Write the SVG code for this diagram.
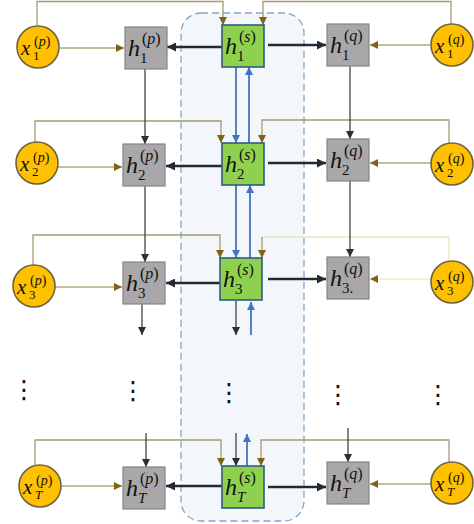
<svg xmlns="http://www.w3.org/2000/svg" width="474" height="524" viewBox="0 0 474 524">
<style>
.bg{fill:#f3f7fc;stroke:#86a5c4;stroke-width:1.3;stroke-dasharray:7 4}
.c{fill:#ffc000;stroke:#6e6240;stroke-width:1.6}
.g{fill:#a9a7a7;stroke:#858585;stroke-width:1.2}
.s{fill:#8fd14f;stroke:#2f5b80;stroke-width:1.6}
.rt{fill:none;stroke:#a39b74;stroke-width:1.3}
.rtf{fill:none;stroke:#ebe6c2;stroke-width:1.3}
.ol{fill:none;stroke:#8c7d44;stroke-width:1.2}
.olf{fill:none;stroke:#ece6b8;stroke-width:1.2}
.th{fill:none;stroke:#222a35;stroke-width:2.6}
.dk{fill:none;stroke:#333;stroke-width:1.2}
.bl{fill:none;stroke:#4472c4;stroke-width:1.8}
.m{font-family:"Liberation Serif","DejaVu Serif",serif;fill:#111}
.i{font-style:italic}
.dots{font-family:"DejaVu Sans",sans-serif;font-size:25px;fill:#111;text-anchor:middle}
</style>
<defs>
<marker id="aTh" markerUnits="userSpaceOnUse" markerWidth="9" markerHeight="9" refX="9" refY="4.5" orient="auto"><path d="M0,0 L9,4.5 L0,9 z" fill="#222a35"/></marker>
<marker id="aOl" markerUnits="userSpaceOnUse" markerWidth="8" markerHeight="8" refX="8" refY="4" orient="auto"><path d="M0,0 L8,4 L0,8 z" fill="#7f6414"/></marker>
<marker id="aDk" markerUnits="userSpaceOnUse" markerWidth="8" markerHeight="8" refX="8" refY="4" orient="auto"><path d="M0,0 L8,4 L0,8 z" fill="#2a2f38"/></marker>
<marker id="aBl" markerUnits="userSpaceOnUse" markerWidth="8" markerHeight="8" refX="8" refY="4" orient="auto"><path d="M0,0 L8,4 L0,8 z" fill="#4472c4"/></marker>
</defs>
<rect class="bg" x="181" y="13" width="123" height="508" rx="20"/>
<g id="connectors">
<path class="rt" d="M37,26 V1.5 H223 V25" marker-end="url(#aOl)"/>
<path class="rt" d="M451,24 V1.5 H263 V25" marker-end="url(#aOl)"/>
<path class="rt" d="M35,143 V121 H221 V143" marker-end="url(#aOl)"/>
<path class="rt" d="M449,144 V120 H262 V143" marker-end="url(#aOl)"/>
<path class="rt" d="M33,266 V235 H220 V258" marker-end="url(#aOl)"/>
<path class="rtf" d="M449,262 V237 H262"/>
<path class="rt" d="M262,237 V258" marker-end="url(#aOl)"/>
<path class="rt" d="M35,465 V440 H221 V466" marker-end="url(#aOl)"/>
<path class="rt" d="M449,462 V440 H261 V466" marker-end="url(#aOl)"/>
<path class="ol" d="M60,48 H124" marker-end="url(#aOl)"/>
<path class="ol" d="M430,45 H370" marker-end="url(#aOl)"/>
<path class="ol" d="M58,167 H122" marker-end="url(#aOl)"/>
<path class="ol" d="M431,163 H370" marker-end="url(#aOl)"/>
<path class="ol" d="M55,287 H122" marker-end="url(#aOl)"/>
<path class="olf" d="M431,279 H370" marker-end="url(#aOl)"/>
<path class="ol" d="M62,486 H122" marker-end="url(#aOl)"/>
<path class="ol" d="M431,484 H370" marker-end="url(#aOl)"/>
<path class="th" d="M222,47 H167" marker-end="url(#aTh)"/>
<path class="th" d="M268,45 H326" marker-end="url(#aTh)"/>
<path class="th" d="M222,166 H166" marker-end="url(#aTh)"/>
<path class="th" d="M268,163 H326" marker-end="url(#aTh)"/>
<path class="th" d="M220,283 H166" marker-end="url(#aTh)"/>
<path class="th" d="M268,279 H326" marker-end="url(#aTh)"/>
<path class="th" d="M222,486 H166" marker-end="url(#aTh)"/>
<path class="th" d="M268,487 H326" marker-end="url(#aTh)"/>
<path class="dk" d="M145,68 V144" marker-end="url(#aDk)"/>
<path class="dk" d="M145,186 V262" marker-end="url(#aDk)"/>
<path class="dk" d="M142,304 V335" marker-end="url(#aDk)"/>
<path class="dk" d="M146,433 V467" marker-end="url(#aDk)"/>
<path class="dk" d="M350,66 V139" marker-end="url(#aDk)"/>
<path class="dk" d="M350,181 V257" marker-end="url(#aDk)"/>
<path class="dk" d="M348,428 V462" marker-end="url(#aDk)"/>
<path class="dk" d="M236,301 V335" marker-end="url(#aDk)"/>
<path class="dk" d="M236,433 V466" marker-end="url(#aDk)"/>
<path class="bl" d="M236,67 V143" marker-end="url(#aBl)"/>
<path class="bl" d="M249,143 V67" marker-end="url(#aBl)"/>
<path class="bl" d="M236,185 V258" marker-end="url(#aBl)"/>
<path class="bl" d="M250,258 V185" marker-end="url(#aBl)"/>
<path class="bl" d="M251,335 V302" marker-end="url(#aBl)"/>
<path class="bl" d="M247,466 V434" marker-end="url(#aBl)"/>
</g>
<!-- row 1 -->
<g id="x1p"><circle class="c" cx="38" cy="47" r="21"/><text class="m"><tspan class="i" x="21" y="55" font-size="21">x</tspan><tspan x="34" y="46" font-size="14">(<tspan class="i">p</tspan>)</tspan><tspan x="33" y="60" font-size="13">1</tspan></text></g>
<g id="h1p"><rect class="g" x="125" y="27" width="42" height="42"/><text class="m"><tspan class="i" x="128" y="56" font-size="24">h</tspan><tspan x="142" y="44" font-size="16">(<tspan class="i">p</tspan>)</tspan><tspan x="140" y="63" font-size="15">1</tspan></text></g>
<g id="h1s"><rect class="s" x="222" y="25" width="42" height="42"/><text class="m"><tspan class="i" x="225" y="54" font-size="24">h</tspan><tspan x="239" y="42" font-size="16">(<tspan class="i">s</tspan>)</tspan><tspan x="237" y="61" font-size="15">1</tspan></text></g>
<g id="h1q"><rect class="g" x="327" y="24" width="42" height="42"/><text class="m"><tspan class="i" x="330" y="53" font-size="24">h</tspan><tspan x="344" y="41" font-size="16">(<tspan class="i">q</tspan>)</tspan><tspan x="342" y="60" font-size="15">1</tspan></text></g>
<g id="x1q"><circle class="c" cx="452" cy="45" r="21"/><text class="m"><tspan class="i" x="435" y="53" font-size="21">x</tspan><tspan x="448" y="44" font-size="14">(<tspan class="i">q</tspan>)</tspan><tspan x="447" y="58" font-size="13">1</tspan></text></g>
<!-- row 2 -->
<g id="x2p"><circle class="c" cx="37" cy="163" r="21"/><text class="m"><tspan class="i" x="20" y="171" font-size="21">x</tspan><tspan x="33" y="162" font-size="14">(<tspan class="i">p</tspan>)</tspan><tspan x="32" y="176" font-size="13">2</tspan></text></g>
<g id="h2p"><rect class="g" x="123" y="144" width="42" height="42"/><text class="m"><tspan class="i" x="126" y="173" font-size="24">h</tspan><tspan x="140" y="161" font-size="16">(<tspan class="i">p</tspan>)</tspan><tspan x="138" y="180" font-size="15">2</tspan></text></g>
<g id="h2s"><rect class="s" x="222" y="143" width="42" height="42"/><text class="m"><tspan class="i" x="225" y="172" font-size="24">h</tspan><tspan x="239" y="160" font-size="16">(<tspan class="i">s</tspan>)</tspan><tspan x="237" y="179" font-size="15">2</tspan></text></g>
<g id="h2q"><rect class="g" x="327" y="139" width="42" height="42"/><text class="m"><tspan class="i" x="330" y="168" font-size="24">h</tspan><tspan x="344" y="156" font-size="16">(<tspan class="i">q</tspan>)</tspan><tspan x="342" y="175" font-size="15">2</tspan></text></g>
<g id="x2q"><circle class="c" cx="452" cy="164" r="21"/><text class="m"><tspan class="i" x="435" y="172" font-size="21">x</tspan><tspan x="448" y="163" font-size="14">(<tspan class="i">q</tspan>)</tspan><tspan x="447" y="177" font-size="13">2</tspan></text></g>
<!-- row 3 -->
<g id="x3p"><circle class="c" cx="34" cy="286" r="21"/><text class="m"><tspan class="i" x="17" y="294" font-size="21">x</tspan><tspan x="30" y="285" font-size="14">(<tspan class="i">p</tspan>)</tspan><tspan x="29" y="299" font-size="13">3</tspan></text></g>
<g id="h3p"><rect class="g" x="123" y="262" width="42" height="42"/><text class="m"><tspan class="i" x="126" y="291" font-size="24">h</tspan><tspan x="140" y="279" font-size="16">(<tspan class="i">p</tspan>)</tspan><tspan x="138" y="298" font-size="15">3</tspan></text></g>
<g id="h3s"><rect class="s" x="220" y="258" width="42" height="42"/><text class="m"><tspan class="i" x="223" y="287" font-size="24">h</tspan><tspan x="237" y="275" font-size="16">(<tspan class="i">s</tspan>)</tspan><tspan x="235" y="294" font-size="15">3</tspan></text></g>
<g id="h3q"><rect class="g" x="327" y="257" width="42" height="42"/><text class="m"><tspan class="i" x="330" y="286" font-size="24">h</tspan><tspan x="344" y="274" font-size="16">(<tspan class="i">q</tspan>)</tspan><tspan x="342" y="293" font-size="15">3.</tspan></text></g>
<g id="x3q"><circle class="c" cx="452" cy="282" r="21"/><text class="m"><tspan class="i" x="435" y="290" font-size="21">x</tspan><tspan x="448" y="281" font-size="14">(<tspan class="i">q</tspan>)</tspan><tspan x="447" y="295" font-size="13">3</tspan></text></g>
<!-- ellipsis -->
<g id="dots">
<text class="dots" x="24" y="398">⋮</text>
<text class="dots" x="133" y="399">⋮</text>
<text class="dots" x="229" y="401">⋮</text>
<text class="dots" x="338" y="403">⋮</text>
<text class="dots" x="438" y="403">⋮</text>
</g>
<!-- row T -->
<g id="xTp"><circle class="c" cx="40" cy="486" r="21"/><text class="m"><tspan class="i" x="23" y="494" font-size="21">x</tspan><tspan x="36" y="485" font-size="14">(<tspan class="i">p</tspan>)</tspan><tspan class="i" x="35" y="499" font-size="13">T</tspan></text></g>
<g id="hTp"><rect class="g" x="123" y="467" width="42" height="42"/><text class="m"><tspan class="i" x="126" y="496" font-size="24">h</tspan><tspan x="140" y="484" font-size="16">(<tspan class="i">p</tspan>)</tspan><tspan class="i" x="138" y="503" font-size="15">T</tspan></text></g>
<g id="hTs"><rect class="s" x="222" y="466" width="42" height="42"/><text class="m"><tspan class="i" x="225" y="495" font-size="24">h</tspan><tspan x="239" y="483" font-size="16">(<tspan class="i">s</tspan>)</tspan><tspan class="i" x="237" y="502" font-size="15">T</tspan></text></g>
<g id="hTq"><rect class="g" x="327" y="462" width="42" height="42"/><text class="m"><tspan class="i" x="330" y="491" font-size="24">h</tspan><tspan x="344" y="479" font-size="16">(<tspan class="i">q</tspan>)</tspan><tspan class="i" x="342" y="498" font-size="15">T</tspan></text></g>
<g id="xTq"><circle class="c" cx="452" cy="483" r="21"/><text class="m"><tspan class="i" x="435" y="491" font-size="21">x</tspan><tspan x="448" y="482" font-size="14">(<tspan class="i">q</tspan>)</tspan><tspan class="i" x="447" y="496" font-size="13">T</tspan></text></g>
</svg>
